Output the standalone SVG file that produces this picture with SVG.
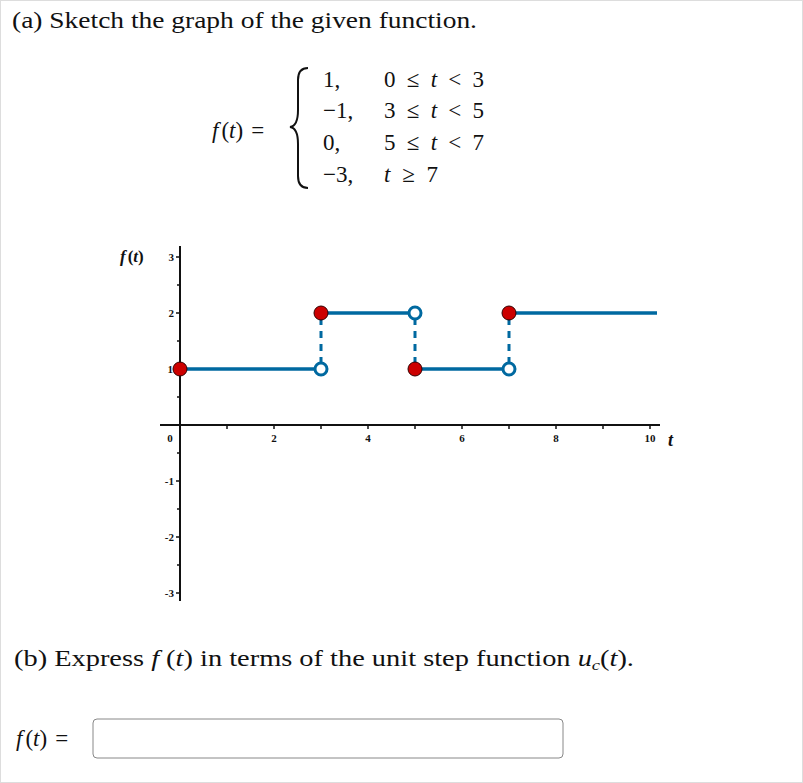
<svg xmlns="http://www.w3.org/2000/svg" width="803" height="783" viewBox="0 0 803 783">
<style>
.s{font-family:"Liberation Serif",serif;font-size:23px;fill:#111}
.m{font-family:"Liberation Serif",serif;font-size:23px;fill:#111}
.i{font-style:italic}
.tk{font-family:"Liberation Serif",serif;font-size:11px;font-weight:bold;fill:#111}
.f{stroke:#0069a0;stroke-width:3.5;fill:none}
.d{stroke:#0069a0;stroke-width:3;stroke-dasharray:7,6}
.cl{fill:#cc0000;stroke:#300;stroke-width:1}
.op{fill:#fff;stroke:#0069a0;stroke-width:3}
</style>
<rect x="0.5" y="0.5" width="802" height="782" fill="#fff" stroke="#ddd"/>
<text class="s" x="12" y="28" textLength="465" lengthAdjust="spacingAndGlyphs">(a) Sketch the graph of the given function.</text>
<g id="formula">
<text class="m" x="212" y="138"><tspan class="i">f</tspan><tspan dx="3">(</tspan><tspan class="i">t</tspan>)<tspan dx="8">=</tspan></text>
<path d="M308 68 Q298 68 298 80 L298 110 Q298 126 290 127 Q298 128 298 144 L298 176 Q298 188 308 188" fill="none" stroke="#111" stroke-width="2"/>
<text class="m" x="323" y="87">1,</text><text class="m" x="384" y="87" textLength="100" lengthAdjust="spacing">0 ≤ <tspan class="i">t</tspan> &lt; 3</text>
<text class="m" x="323" y="118">−1,</text><text class="m" x="384" y="118" textLength="100" lengthAdjust="spacing">3 ≤ <tspan class="i">t</tspan> &lt; 5</text>
<text class="m" x="323" y="150">0,</text><text class="m" x="384" y="150" textLength="100" lengthAdjust="spacing">5 ≤ <tspan class="i">t</tspan> &lt; 7</text>
<text class="m" x="323" y="182">−3,</text><text class="m" x="384" y="182" textLength="54" lengthAdjust="spacing"><tspan class="i">t</tspan> ≥ 7</text>
</g>
<g id="axes" stroke="#111" stroke-width="2">
<line x1="160" y1="425" x2="660" y2="425"/>
<line x1="180" y1="246" x2="180" y2="601"/>
<g stroke-width="1.5">
<line x1="227" y1="425" x2="227" y2="429"/><line x1="274" y1="425" x2="274" y2="429"/><line x1="321" y1="425" x2="321" y2="429"/><line x1="368" y1="425" x2="368" y2="429"/><line x1="415" y1="425" x2="415" y2="429"/><line x1="462" y1="425" x2="462" y2="429"/><line x1="509" y1="425" x2="509" y2="429"/><line x1="556" y1="425" x2="556" y2="429"/><line x1="603" y1="425" x2="603" y2="429"/><line x1="650" y1="425" x2="650" y2="429"/>
<line x1="176" y1="257" x2="180" y2="257"/><line x1="177" y1="285" x2="180" y2="285"/><line x1="176" y1="313" x2="180" y2="313"/><line x1="177" y1="341" x2="180" y2="341"/><line x1="176" y1="369" x2="180" y2="369"/><line x1="177" y1="397" x2="180" y2="397"/><line x1="177" y1="453" x2="180" y2="453"/><line x1="176" y1="481" x2="180" y2="481"/><line x1="177" y1="509" x2="180" y2="509"/><line x1="176" y1="537" x2="180" y2="537"/><line x1="177" y1="565" x2="180" y2="565"/><line x1="176" y1="593" x2="180" y2="593"/>
</g>
</g>
<g id="labels">
<text class="tk" x="170" y="442" text-anchor="middle">0</text>
<text class="tk" x="274" y="442" text-anchor="middle">2</text>
<text class="tk" x="368" y="442" text-anchor="middle">4</text>
<text class="tk" x="462" y="442" text-anchor="middle">6</text>
<text class="tk" x="556" y="442" text-anchor="middle">8</text>
<text class="tk" x="650" y="442" text-anchor="middle">10</text>
<text class="tk" x="174" y="261" text-anchor="end">3</text>
<text class="tk" x="174" y="317" text-anchor="end">2</text>
<text class="tk" x="173" y="373" text-anchor="end">1</text>
<text class="tk" x="174" y="485" text-anchor="end">-1</text>
<text class="tk" x="174" y="541" text-anchor="end">-2</text>
<text class="tk" x="174" y="597" text-anchor="end">-3</text>
<text x="120" y="262" style="font-family:'Liberation Serif',serif;font-size:17px;font-weight:bold;font-style:italic" fill="#111">f<tspan dx="2" font-style="normal">(</tspan>t<tspan font-style="normal">)</tspan></text>
<text x="668" y="446" style="font-family:'Liberation Serif',serif;font-size:18px;font-weight:bold;font-style:italic" fill="#111">t</text>
</g>
<g id="connectors">
<line class="f" x1="180" y1="369" x2="314" y2="369"/>
<line class="f" x1="321" y1="313" x2="409" y2="313"/>
<line class="f" x1="415" y1="369" x2="503" y2="369"/>
<line class="f" x1="509" y1="313" x2="657" y2="313"/>
<line class="d" x1="321" y1="318" x2="321" y2="364"/>
<line class="d" x1="415" y1="318" x2="415" y2="364"/>
<line class="d" x1="509" y1="318" x2="509" y2="364"/>
</g>
<g id="points">
<circle class="cl" cx="180" cy="369" r="7"/>
<circle class="op" cx="321" cy="369" r="6"/>
<circle class="cl" cx="321" cy="313" r="7"/>
<circle class="op" cx="415" cy="313" r="6"/>
<circle class="cl" cx="415" cy="369" r="7"/>
<circle class="op" cx="509" cy="369" r="6"/>
<circle class="cl" cx="509" cy="313" r="7"/>
</g>
<text class="s" x="14" y="666" textLength="620" lengthAdjust="spacingAndGlyphs">(b) Express <tspan class="i">f</tspan> (<tspan class="i">t</tspan>) in terms of the unit step function <tspan class="i">u<tspan font-size="15" dy="4">c</tspan></tspan><tspan dy="-4">(</tspan><tspan class="i">t</tspan>).</text>
<g id="answer">
<text class="m" x="16" y="746"><tspan class="i">f</tspan><tspan dx="3">(</tspan><tspan class="i">t</tspan>)<tspan dx="8">=</tspan></text>
<rect x="93" y="719" width="470" height="39" rx="4" fill="#fff" stroke="#888" stroke-width="1"/>
</g>
</svg>
